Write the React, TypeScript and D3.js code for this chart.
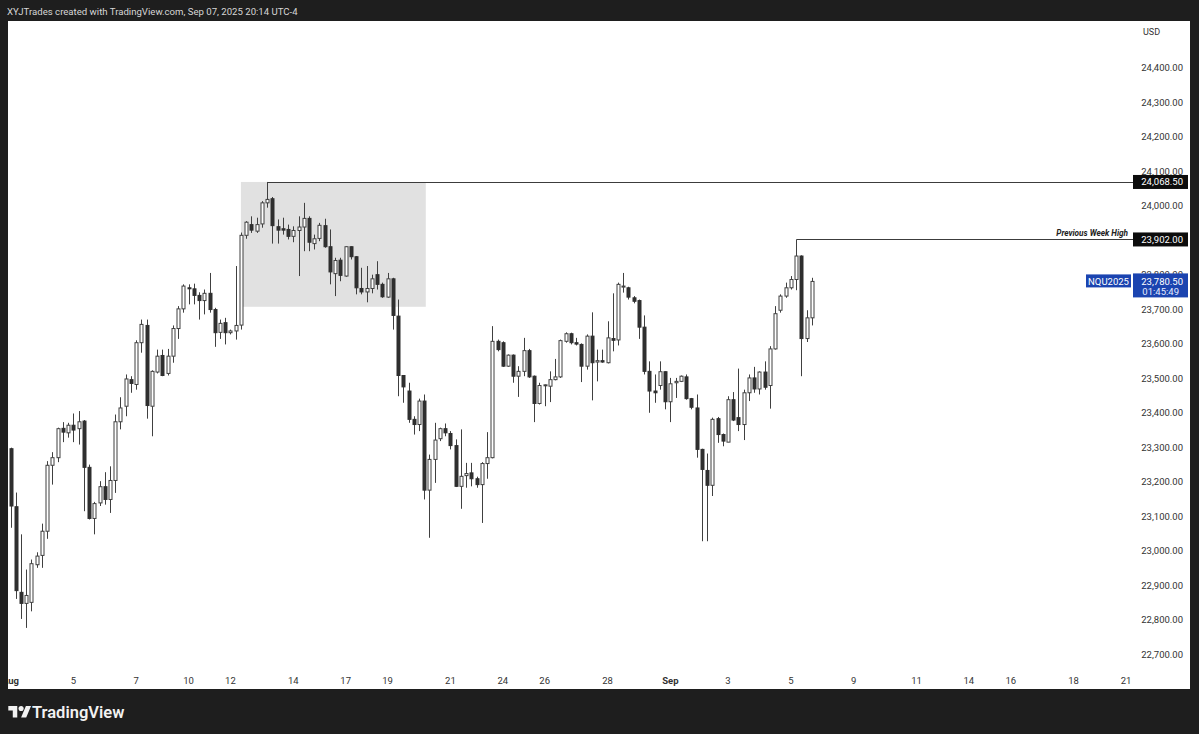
import React from "react";
import * as d3 from "d3";

// 4h bars, NQU2025, from Aug 1 2025 to Sep 7 2025 (index = bar number)
const opens = [
  23296, 23128, 22880, 22848, 22851, 22960, 22987, 23057, 23248, 23270,
  23355, 23342, 23364, 23354, 23376, 23242, 23094, 23139, 23186, 23149,
  23204, 23374, 23419, 23496, 23482, 23603, 23653, 23419, 23518, 23566,
  23514, 23564, 23644, 23701, 23762, 23759, 23740, 23725, 23746, 23699,
  23633, 23661, 23632, 23637, 23654, 23914, 23945, 23926, 23947, 24008,
  24020, 23939, 23933, 23931, 23911, 23928, 23938, 23963, 23890, 23905,
  23942, 23881, 23803, 23842, 23796, 23881, 23852, 23760, 23750, 23760,
  23800, 23772, 23735, 23788, 23680, 23508, 23463, 23381, 23366, 23434,
  23176, 23265, 23325, 23354, 23340, 23305, 23187, 23218, 23226, 23209,
  23192, 23253, 23270, 23607, 23603, 23535, 23567, 23506, 23520, 23580,
  23506, 23427, 23479, 23477, 23496, 23504, 23607, 23629, 23603, 23598,
  23535, 23622, 23547, 23551, 23545, 23615, 23611, 23764, 23762, 23733,
  23725, 23648, 23520, 23463, 23479, 23519, 23432, 23487, 23491, 23504,
  23441, 23414, 23294, 23233, 23190, 23383, 23337, 23315, 23438, 23386,
  23366, 23458, 23501, 23469, 23518, 23479, 23585, 23697, 23738, 23762,
  23786, 23854, 23615, 23675,
];
const highs = [
  23299, 23169, 23048, 22946, 22975, 22996, 23079, 23260, 23286, 23357,
  23373, 23371, 23398, 23405, 23379, 23250, 23142, 23202, 23228, 23245,
  23395, 23445, 23511, 23506, 23610, 23670, 23670, 23523, 23583, 23583,
  23585, 23653, 23709, 23772, 23772, 23774, 23749, 23757, 23805, 23704,
  23670, 23675, 23641, 23825, 23922, 23955, 23969, 23965, 24013, 24068.5,
  24025, 23960, 23965, 23945, 23940, 23969, 24008, 23969, 23916, 23950,
  23962, 23931, 23849, 23849, 23882, 23882, 23854, 23820, 23825, 23800,
  23839, 23777, 23805, 23791, 23728, 23508, 23487, 23390, 23441, 23453,
  23279, 23371, 23357, 23369, 23347, 23323, 23352, 23255, 23255, 23215,
  23257, 23344, 23651, 23612, 23607, 23569, 23569, 23535, 23617, 23585,
  23508, 23487, 23482, 23520, 23556, 23612, 23633, 23632, 23617, 23601,
  23627, 23691, 23583, 23583, 23665, 23746, 23777, 23805, 23765, 23738,
  23728, 23682, 23549, 23511, 23549, 23520, 23501, 23501, 23508, 23511,
  23443, 23453, 23296, 23282, 23386, 23388, 23340, 23448, 23460, 23528,
  23467, 23511, 23533, 23520, 23549, 23593, 23709, 23743, 23777, 23796,
  23902, 23856, 23697, 23791,
];
const lows = [
  23067, 22861, 22803, 22777, 22825, 22951, 22951, 23035, 23192, 23257,
  23315, 23328, 23315, 23308, 23115, 23091, 23048, 23130, 23134, 23110,
  23168, 23352, 23390, 23458, 23467, 23574, 23383, 23332, 23514, 23506,
  23508, 23545, 23614, 23690, 23714, 23714, 23670, 23685, 23690, 23591,
  23614, 23598, 23627, 23612, 23641, 23904, 23921, 23921, 23936, 23994,
  23890, 23890, 23916, 23902, 23894, 23796, 23868, 23868, 23873, 23897,
  23878, 23772, 23738, 23781, 23794, 23844, 23743, 23743, 23720, 23746,
  23757, 23733, 23733, 23641, 23448, 23429, 23371, 23337, 23347, 23149,
  23038, 23197, 23318, 23332, 23294, 23185, 23122, 23183, 23187, 23183,
  23081, 23209, 23268, 23578, 23533, 23533, 23487, 23446, 23506, 23501,
  23373, 23424, 23419, 23431, 23494, 23501, 23603, 23598, 23595, 23489,
  23525, 23436, 23491, 23545, 23543, 23578, 23595, 23748, 23728, 23717,
  23614, 23511, 23400, 23429, 23467, 23410, 23373, 23443, 23489, 23438,
  23410, 23270, 23028, 23028, 23159, 23313, 23303, 23315, 23376, 23347,
  23321, 23434, 23458, 23453, 23467, 23412, 23583, 23690, 23733, 23757,
  23755, 23506, 23605, 23653,
];
const closes = [
  23130, 22885, 22848, 22871, 22963, 22985, 23057, 23248, 23270, 23354,
  23344, 23364, 23350, 23374, 23242, 23094, 23137, 23186, 23149, 23204,
  23374, 23414, 23498, 23485, 23603, 23656, 23421, 23520, 23564, 23508,
  23564, 23644, 23701, 23767, 23760, 23740, 23725, 23746, 23699, 23632,
  23659, 23632, 23637, 23653, 23914, 23952, 23929, 23945, 24008, 24018,
  23942, 23929, 23929, 23911, 23928, 23938, 23963, 23894, 23904, 23943,
  23881, 23808, 23841, 23798, 23881, 23852, 23762, 23750, 23760, 23788,
  23772, 23736, 23788, 23682, 23508, 23475, 23381, 23366, 23434, 23176,
  23265, 23321, 23354, 23342, 23305, 23187, 23216, 23224, 23209, 23192,
  23253, 23270, 23607, 23583, 23535, 23567, 23506, 23520, 23580, 23504,
  23427, 23479, 23481, 23496, 23504, 23609, 23629, 23603, 23599, 23535,
  23622, 23545, 23551, 23547, 23617, 23610, 23772, 23767, 23735, 23723,
  23648, 23520, 23463, 23458, 23519, 23432, 23484, 23491, 23506, 23441,
  23416, 23294, 23236, 23190, 23381, 23337, 23318, 23438, 23379, 23366,
  23458, 23501, 23469, 23518, 23474, 23585, 23687, 23738, 23762, 23786,
  23854, 23615, 23675, 23780.5,
];

// time axis labels: bar index -> label
const xTickIndex = [0, 12, 24, 34, 42, 54, 64, 72, 84, 94, 102, 114, 126, 137, 149, 161, 173, 183, 191, 203, 213];
const xTickLabels = ["Aug", "5", "7", "10", "12", "14", "17", "19", "21", "24", "26", "28", "Sep", "3", "5", "9", "11", "14", "16", "18", "21"];
const xTickBold = ["Aug", "Sep"];

const priceTicks = [22700, 22800, 22900, 23000, 23100, 23200, 23300, 23400, 23500, 23600, 23700, 23800, 23900, 24000, 24100, 24200, 24300, 24400];

// drawings
const highLevel = 24068.5;
const highLevelBar = 49;
const prevWeekHigh = 23902;
const prevWeekHighBar = 150;
const zoneStartBar = 44;
const zoneEndBar = 79.3;
const zoneTop = 24068.5;
const zoneBottom = 23707;
const lastPrice = 23780.5;
const countdown = "01:45:49";
const symbol = "NQU2025";

const FONT = "Roboto, 'Noto Sans', Arial, sans-serif";

export default function App() {
  const W = 1199;
  const H = 734;
  const panelL = 8, panelR = 1190, panelT = 21, panelB = 689;
  const axisX = 1133;

  const x = d3.scaleLinear().domain([0, 213]).range([10.5, 1126]);
  const y = d3.scaleLinear().domain([22700, 24400]).range([654.5, 67.5]);
  const fmt = d3.format(",.2f");

  const bars = opens.map((o, i) => ({ o, h: highs[i], l: lows[i], c: closes[i], i }));

  return (
    <svg width={W} height={H} style={{ position: "fixed", left: 0, top: 0, display: "block" }} fontFamily={FONT}>
      <defs>
        <clipPath id="plotClip">
          <rect x={panelL} y={panelT} width={axisX - panelL} height={panelB - panelT} />
        </clipPath>
        <clipPath id="panelClip">
          <rect x={panelL} y={panelT} width={panelR - panelL} height={panelB - panelT} />
        </clipPath>
      </defs>
      <rect x={0} y={0} width={W} height={H} fill="#1e1e1e" />
      <rect x={panelL} y={panelT} width={panelR - panelL} height={panelB - panelT} fill="#ffffff" />

      <text x={7} y={15} fill="#d6d6d6" fontSize={9.6}>
        XYJTrades created with TradingView.com, Sep 07, 2025 20:14 UTC-4
      </text>

      <g clipPath="url(#plotClip)">
        <rect
          x={x(zoneStartBar)}
          y={y(zoneTop)}
          width={x(zoneEndBar) - x(zoneStartBar)}
          height={y(zoneBottom) - y(zoneTop)}
          fill="#e1e1e1"
        />
        <line x1={Math.round(x(highLevelBar)) + 0.5} x2={axisX} y1={Math.round(y(highLevel)) + 0.5} y2={Math.round(y(highLevel)) + 0.5} stroke="#3c3c3c" strokeWidth={1} />
        <line x1={Math.round(x(prevWeekHighBar)) + 0.5} x2={axisX} y1={Math.round(y(prevWeekHigh)) + 0.5} y2={Math.round(y(prevWeekHigh)) + 0.5} stroke="#3c3c3c" strokeWidth={1} />
        <text x={1128} y={Math.round(y(prevWeekHigh)) - 3} textAnchor="end" fontSize={8.2} fontStyle="italic" fontWeight={700} fill="#222">
          Previous Week High
        </text>

        {bars.map((b) => {
          const cx = Math.round(x(b.i)) + 0.5;
          const up = b.c >= b.o;
          const top = y(Math.max(b.o, b.c));
          const bot = y(Math.min(b.o, b.c));
          const hgt = Math.max(1, bot - top);
          return (
            <g key={b.i}>
              <line x1={cx} x2={cx} y1={y(b.h)} y2={y(b.l)} stroke="#404040" strokeWidth={1} />
              <rect
                x={cx - 1.5}
                y={top}
                width={3}
                height={hgt}
                fill={up ? "#ffffff" : "#2f2f2f"}
                stroke={up ? "#404040" : "#2f2f2f"}
                strokeWidth={1}
              />
            </g>
          );
        })}
      </g>

      {/* time axis */}
      <g clipPath="url(#panelClip)">
        {xTickIndex.map((ti, k) => (
          <text
            key={k}
            x={x(ti)}
            y={684}
            textAnchor="middle"
            fontSize={9.5}
            fill="#333"
            fontWeight={xTickBold.includes(xTickLabels[k]) ? 700 : 400}
          >
            {xTickLabels[k]}
          </text>
        ))}
      </g>

      {/* price axis */}
      <text x={1143} y={35} fontSize={9} fill="#333">USD</text>
      {priceTicks.map((p) => (
        <text key={p} x={1183} y={y(p) + 3.5} textAnchor="end" fontSize={9.5} fill="#333">
          {fmt(p)}
        </text>
      ))}

      {/* price labels */}
      <rect x={axisX} y={y(highLevel) - 7} width={55} height={14} fill="#0c0c0c" />
      <text x={1183} y={y(highLevel) + 3.5} textAnchor="end" fontSize={9.5} fill="#fff">{fmt(highLevel)}</text>

      <rect x={axisX} y={y(prevWeekHigh) - 7} width={55} height={14} fill="#0c0c0c" />
      <text x={1183} y={y(prevWeekHigh) + 3.5} textAnchor="end" fontSize={9.5} fill="#fff">{fmt(prevWeekHigh)}</text>

      <rect x={1086} y={y(lastPrice) - 7} width={45} height={13} fill="#1b44b0" />
      <text x={1108.5} y={y(lastPrice) + 3.5} textAnchor="middle" fontSize={9.5} fill="#fff">{symbol}</text>
      <rect x={axisX} y={y(lastPrice) - 8} width={55} height={24} fill="#1b44b0" />
      <text x={1183} y={y(lastPrice) + 3.5} textAnchor="end" fontSize={9.5} fill="#fff">{fmt(lastPrice)}</text>
      <text x={1179} y={y(lastPrice) + 13.5} textAnchor="end" fontSize={9.5} fill="#e6ebff">{countdown}</text>

      {/* TradingView logo */}
      <g transform="translate(8.3,703.4) scale(0.64)" fill="#f2f2f2">
        <path d="M14 22H7V11H0V4h14v18zM28 22h-8l7.5-18h8L28 22z" />
        <circle cx={20} cy={8} r={4} />
      </g>
      <text x={32} y={718} fontSize={16.5} fontWeight={600} fill="#f2f2f2">TradingView</text>
    </svg>
  );
}
